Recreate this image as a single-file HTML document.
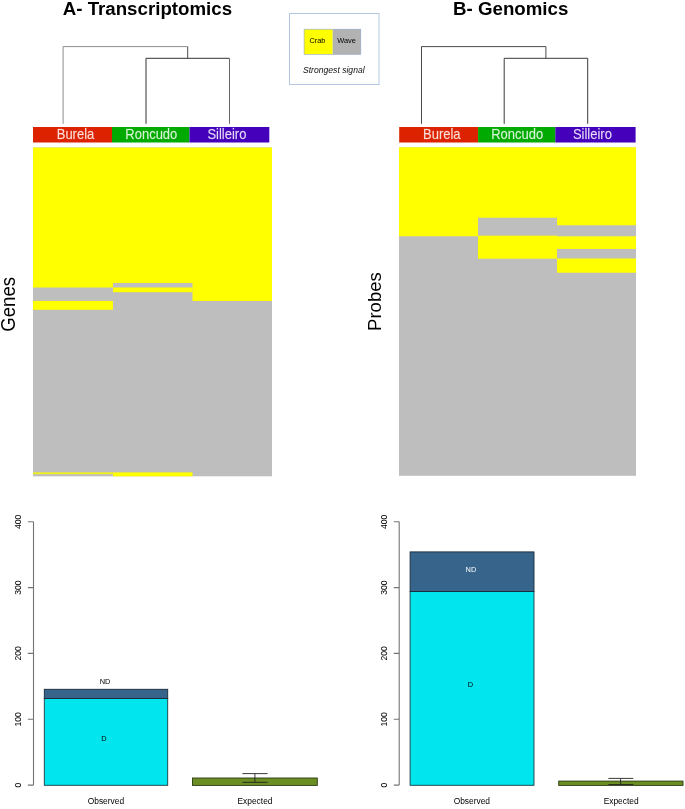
<!DOCTYPE html>
<html lang="en">
<head>
<meta charset="utf-8">
<title>Transcriptomics and Genomics</title>
<style>
  html, body { margin: 0; padding: 0; background: #ffffff; }
  body { width: 685px; height: 809px; overflow: hidden; }
  svg { display: block; font-family: "Liberation Sans", Arial, Helvetica, sans-serif; }
  .title { font-size: 18.7px; font-weight: bold; fill: #000; }
  .pop { font-size: 14.6px; fill: #ffffff; fill-opacity: 0.84; stroke: #ffffff; stroke-opacity: 0.35; stroke-width: 0.3px; text-anchor: middle; }
  .ylab { font-size: 20.1px; fill: #000; text-anchor: middle; }
  .tick { font-size: 8.6px; fill: #000; text-anchor: middle; }
  .xlab { font-size: 8.4px; fill: #000; text-anchor: middle; }
  .small { font-size: 7.4px; fill: #000; text-anchor: middle; }
  .leg { font-size: 7.4px; fill: #000; text-anchor: middle; }
  .legit { font-size: 8.6px; font-style: italic; fill: #111; text-anchor: middle; }
</style>
</head>
<body>
<svg width="685" height="809" viewBox="0 0 685 809">
  <rect x="0" y="0" width="685" height="809" fill="#ffffff"/>

  <!-- ===== Titles ===== -->
  <text class="title" x="147.4" y="15.2" text-anchor="middle">A- Transcriptomics</text>
  <text class="title" x="510.7" y="15.2" text-anchor="middle">B- Genomics</text>

  <!-- ===== Legend ===== -->
  <g id="legend">
    <rect x="289.5" y="13.5" width="89.5" height="71" fill="#ffffff" stroke="#b4c7e0" stroke-width="1"/>
    <rect x="304.1" y="29.2" width="28.6" height="25.1" fill="#ffff00"/>
    <rect x="332.7" y="29.2" width="28.1" height="25.1" fill="#b2b2b2"/>
    <rect x="304.1" y="29.2" width="56.7" height="25.1" fill="none" stroke="#8fa5c6" stroke-width="0.6"/>
    <text class="leg" x="317.4" y="43.3">Crab</text>
    <text class="leg" x="346.5" y="43.3">Wave</text>
    <text class="legit" x="333.8" y="73">Strongest signal</text>
  </g>

  <!-- ===== Panel A dendrogram ===== -->
  <g fill="none" stroke-width="1">
    <path d="M63.1 123.8 V46.6 H187.7" stroke="#8e8e8e"/>
    <path d="M187.7 46.6 V58.3" stroke="#4a4a4a"/>
    <path d="M146 123.8 V58.3 H229.5" stroke="#333"/>
    <path d="M229.5 58.3 V123.8" stroke="#666"/>
  </g>
  <!-- Panel A colour bar -->
  <rect x="33" y="127" width="79" height="15.5" fill="#dd2200"/>
  <rect x="112" y="127" width="77.5" height="15.5" fill="#00aa00"/>
  <rect x="189.5" y="127" width="79.8" height="15.5" fill="#4400bb"/>
  <text class="pop" transform="translate(75.5 138.5) scale(0.89 1)">Burela</text>
  <text class="pop" transform="translate(151.3 138.5) scale(0.89 1)">Roncudo</text>
  <text class="pop" transform="translate(226.9 138.5) scale(0.89 1)">Silleiro</text>

  <!-- Panel A heatmap -->
  <g id="heatA" shape-rendering="crispEdges">
    <rect x="33" y="147.5" width="239" height="328.8" fill="#bebebe" shape-rendering="auto"/>
    <!-- yellow top block shared by all three columns -->
    <path d="M33 147.5 H272 V300.9 H192.5 V282.9 H113 V287.5 H33 Z" fill="#ffff00" shape-rendering="auto"/>
    <!-- Burela column -->
    <rect x="33" y="300.9" width="80" height="8.9" fill="#ffff00" shape-rendering="auto"/>
    <rect x="33" y="472.3" width="80" height="1.9" fill="#eeee22" shape-rendering="auto"/>
    <!-- Roncudo column -->
    <rect x="113" y="287.5" width="79.5" height="4.7" fill="#ffff00" shape-rendering="auto"/>
    <rect x="113" y="472.4" width="79.5" height="3.9" fill="#ffff00" shape-rendering="auto"/>
  </g>
  <text class="ylab" style="font-size:19.8px" transform="translate(15.3 304.3) rotate(-90) scale(0.94 1)">Genes</text>

  <!-- ===== Panel B dendrogram ===== -->
  <g fill="none" stroke-width="1">
    <path d="M421.5 123.8 V46.6 H545.9 V58.3" stroke="#4a4a4a"/>
    <path d="M504.2 123.8 V58.3 H587.7 V123.8" stroke="#3a3a3a"/>
  </g>
  <!-- Panel B colour bar -->
  <rect x="399.2" y="127" width="78.9" height="15.5" fill="#dd2200"/>
  <rect x="478.1" y="127" width="77.2" height="15.5" fill="#00aa00"/>
  <rect x="555.3" y="127" width="80.3" height="15.5" fill="#4400bb"/>
  <text class="pop" transform="translate(441.8 138.5) scale(0.89 1)">Burela</text>
  <text class="pop" transform="translate(517.2 138.5) scale(0.89 1)">Roncudo</text>
  <text class="pop" transform="translate(592.4 138.5) scale(0.89 1)">Silleiro</text>

  <!-- Panel B heatmap -->
  <g id="heatB">
    <rect x="399" y="147.3" width="237" height="328.5" fill="#bebebe"/>
    <!-- yellow top block shared by all three columns -->
    <path d="M399 147.3 H636 V225.3 H557 V217.7 H478 V236.3 H399 Z" fill="#ffff00"/>
    <!-- Roncudo -->
    <rect x="478" y="235.7" width="79" height="23" fill="#ffff00"/>
    <!-- Silleiro -->
    <rect x="557" y="236.3" width="79" height="12.7" fill="#ffff00"/>
    <rect x="557" y="258.5" width="79" height="14.2" fill="#ffff00"/>
  </g>
  <text class="ylab" style="font-size:18.8px" transform="translate(381.4 301.6) rotate(-90) scale(0.985 1)">Probes</text>

  <!-- ===== Bar chart A ===== -->
  <g id="barA">
    <g stroke="#747474" stroke-width="1.1" fill="none">
      <path d="M33.5 521.8 V785.1"/>
      <path d="M27.8 521.8 H33.5 M27.8 587.6 H33.5 M27.8 653.4 H33.5 M27.8 719.3 H33.5 M27.8 785.1 H33.5"/>
    </g>
    <text class="tick" transform="translate(21.2 521.8) rotate(-90)">400</text>
    <text class="tick" transform="translate(21.2 587.6) rotate(-90)">300</text>
    <text class="tick" transform="translate(21.2 653.4) rotate(-90)">200</text>
    <text class="tick" transform="translate(21.2 719.3) rotate(-90)">100</text>
    <text class="tick" transform="translate(21.2 785.1) rotate(-90)">0</text>

    <rect x="44.3" y="698.5" width="123.4" height="86.8" fill="#00e5ee" stroke="#1a3a40" stroke-width="0.9"/>
    <rect x="44.3" y="689.3" width="123.4" height="9.2" fill="#36648b" stroke="#1a2a3a" stroke-width="0.9"/>
    <text class="small" x="105" y="684.2">ND</text>
    <text class="small" x="104" y="741">D</text>

    <rect x="192.5" y="778" width="124.8" height="7.4" fill="#6b8e23" stroke="#2a3a10" stroke-width="0.9"/>
    <path d="M254.9 773.6 V782.3 M242.4 773.6 H267.6 M242.4 782.3 H267.6" stroke="#222" stroke-width="0.9" fill="none"/>

    <text class="xlab" x="105.9" y="804">Observed</text>
    <text class="xlab" x="255" y="804">Expected</text>
  </g>

  <!-- ===== Bar chart B ===== -->
  <g id="barB">
    <g stroke="#747474" stroke-width="1.1" fill="none">
      <path d="M399.2 521.8 V785.1"/>
      <path d="M393.8 521.8 H399.2 M393.8 587.6 H399.2 M393.8 653.4 H399.2 M393.8 719.3 H399.2 M393.8 785.1 H399.2"/>
    </g>
    <text class="tick" transform="translate(387.2 521.8) rotate(-90)">400</text>
    <text class="tick" transform="translate(387.2 587.6) rotate(-90)">300</text>
    <text class="tick" transform="translate(387.2 653.4) rotate(-90)">200</text>
    <text class="tick" transform="translate(387.2 719.3) rotate(-90)">100</text>
    <text class="tick" transform="translate(387.2 785.1) rotate(-90)">0</text>

    <rect x="410.1" y="591.5" width="123.9" height="193.8" fill="#00e5ee" stroke="#1a3a40" stroke-width="0.9"/>
    <rect x="410.1" y="551.9" width="123.9" height="39.6" fill="#36648b" stroke="#1a2a3a" stroke-width="0.9"/>
    <text class="small" x="470.9" y="571.9" style="fill:#ffffff">ND</text>
    <text class="small" x="470.3" y="687.1">D</text>

    <rect x="558.7" y="781.1" width="124.3" height="4.3" fill="#6b8e23" stroke="#2a3a10" stroke-width="0.9"/>
    <path d="M620.6 778.4 V784.5 M608.4 778.4 H633.3 M608.4 784.5 H633.3" stroke="#222" stroke-width="0.9" fill="none"/>

    <text class="xlab" x="471.8" y="803.7">Observed</text>
    <text class="xlab" x="621.1" y="803.7">Expected</text>
  </g>
</svg>
</body>
</html>
